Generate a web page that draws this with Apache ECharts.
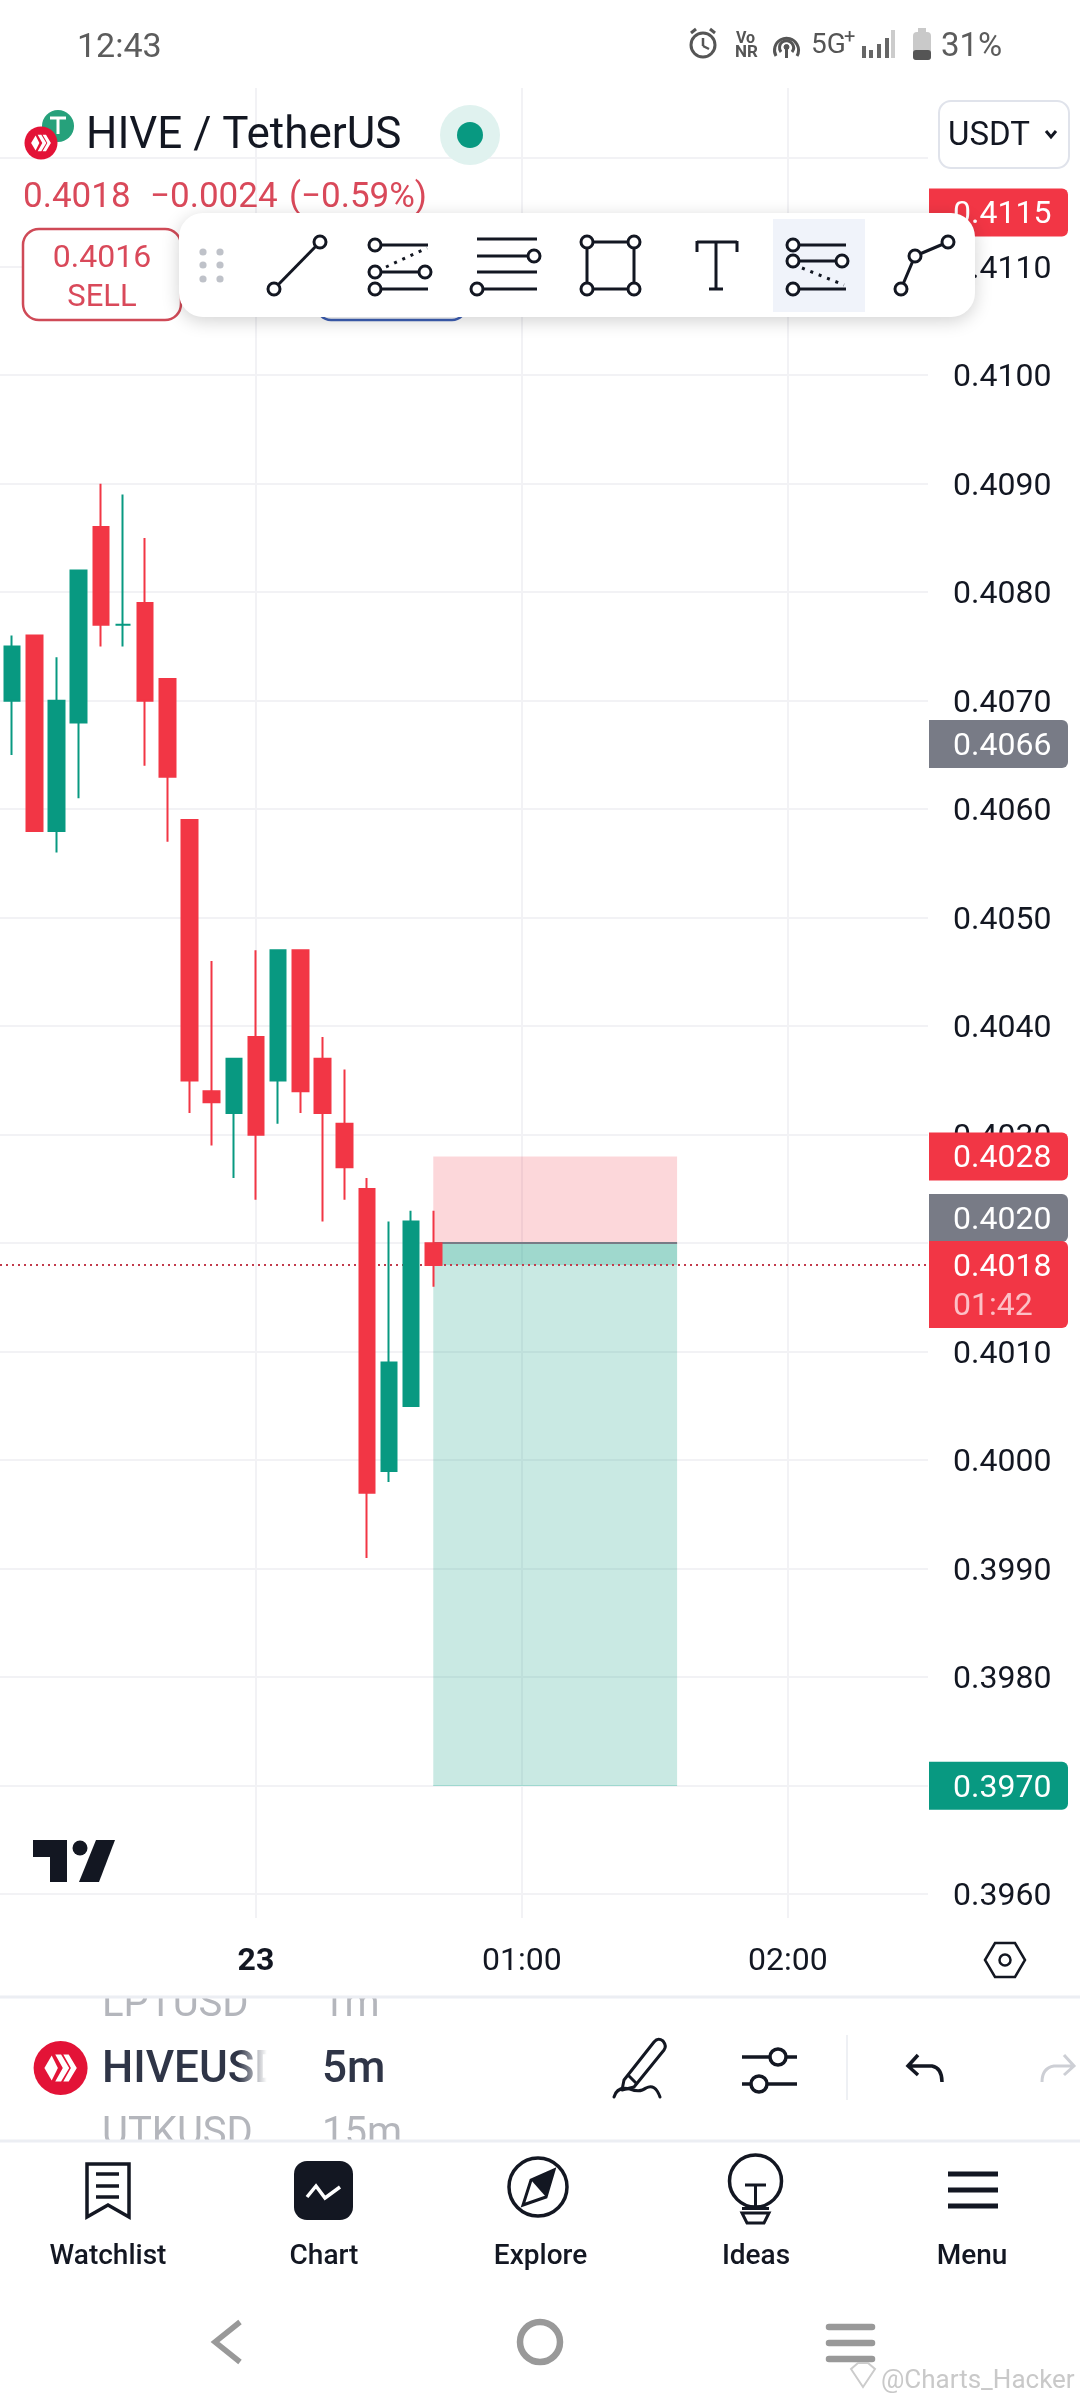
<!DOCTYPE html>
<html><head><meta charset="utf-8">
<style>html,body{margin:0;padding:0;background:#fff}#c{width:1080px;height:2400px}</style>
<script src="https://cdn.jsdelivr.net/npm/echarts@6/dist/echarts.min.js"></script>
</head><body><div id="c"></div>
<script>
// ---- data (minutes relative to 00:00 of the 23rd, prices in USDT)
const candleTimes = [-55,-50,-45,-40,-35,-30,-25,-20,-15,-10,-5,0,5,10,15,20,25,30,35,40];
const opens  = [.4070,.4076,.4058,.4068,.4086,.4077,.4079,.4072,.4059,.4034,.4032,.4039,.4035,.4047,.4037,.4031,.4025,.3999,.4005,.4020];
const closes = [.4075,.4058,.4070,.4082,.4077,.4077,.4070,.4063,.4035,.4033,.4037,.4030,.4047,.4034,.4032,.4027,.3997,.4009,.4022,.4018];
const lows   = [.4065,.4058,.4056,.4061,.4075,.4075,.4064,.4057,.4032,.4029,.4026,.4024,.4031,.4032,.4022,.4024,.3991,.3998,.4005,.4016];
const highs  = [.4076,.4076,.4074,.4082,.4090,.4089,.4085,.4072,.4059,.4046,.4037,.4047,.4047,.4047,.4039,.4036,.4026,.4022,.4023,.4023];
const timeLabels = {0:'23',60:'01:00',120:'02:00'};
const hiddenPriceTicks = [0.412];
const positionTimes = [40,95];
const stopPrice = .4028, entryPrice = .4020, targetPrice = .3970, lastPrice = .4018;
const tagPrices = [.4115,.4066,.4028,.4020,.4018,.3970];
const tagKinds  = ['red','gray','red','gray','red','green'];
const countdown = '01:42';

const RED='#F23645', GREEN='#089981', GRAY='#787B86', INK='#131722', GRID='#f2f2f5';
const FONT='Roboto';
const Z=100;
// ---- chrome helpers
const g=[];
let pathCount=0;
const T=(text,x,y,size,fill,o={})=>g.push({type:'text',z:Z,x,y:y+3,style:{text,fontSize:size,fontFamily:FONT,fontWeight:o.w||400,fill,align:o.a||'left',verticalAlign:'middle'}});
const L=(x1,y1,x2,y2,stroke,w=3,o={})=>g.push({type:'line',z:Z,shape:{x1,y1,x2,y2},style:{stroke,lineWidth:w,lineCap:o.cap||'butt',lineDash:o.dash||null}});
const C=(cx,cy,r,stroke,fill,w=3)=>g.push({type:'circle',z:Z,shape:{cx,cy,r},style:{stroke,fill,lineWidth:w}});
const R=(x,y,width,height,fill,o={})=>g.push({type:'rect',z:Z,shape:{x,y,width,height,r:o.r||0},style:Object.assign({fill,stroke:o.stroke||null,lineWidth:o.w||0},o.style||{})});
const P=(d,stroke,fill,w=3,o={})=>{const name='chromePath'+(pathCount++);echarts.graphic.registerShape(name,echarts.graphic.extendPath(d));g.push({type:name,z:Z,style:{stroke,fill,lineWidth:w,lineJoin:o.join||'miter',lineCap:o.cap||'butt'}});};
function hive(cx,cy,r){
  C(cx,cy,r,null,'#E31337',0);
  const pt=(a,b)=>`${(cx+a*r).toFixed(1)} ${(cy+b*r).toFixed(1)}`;
  P(`M${pt(-.6,0)}L${pt(-.33,-.46)}L${pt(-.1,0)}L${pt(-.33,.46)}Z`,null,'#fff',0);
  P(`M${pt(-.2,-.5)}L${pt(.02,-.5)}L${pt(.32,0)}L${pt(.02,.5)}L${pt(-.2,.5)}L${pt(.08,0)}Z`,null,'#fff',0);
  P(`M${pt(.1,-.5)}L${pt(.3,-.5)}L${pt(.6,0)}L${pt(.3,.5)}L${pt(.1,.5)}L${pt(.38,0)}Z`,null,'#fff',0);
}
// status bar
T('12:43',77,45,34,'#5c5c5c');
C(703,45,12,'#555','none',3);L(703,38,703,46,'#555',2.5);L(703,46,709,49,'#555',2.5);L(691,33,696,29,'#555',3);L(710,29,715,33,'#555',3);
T('Vo',736,36,16,'#555',{w:700});T('NR',735,50,17,'#555',{w:700});
P('M776 56A12 12 0 1 1 797 56','#555','none',3);P('M781 52A7 7 0 1 1 792 52','#555','none',3);C(786.5,47,2.5,'#555','#555',1);L(786.5,48,786.5,58,'#555',3);
T('5G',811,43,28,'#555');T('+',844,35,20,'#555');
[[864,46,58],[871,50,58],[879,44,58],[887,38,58],[893,30,58]].forEach((b,i)=>L(b[0],b[1],b[0],b[2],i==4?'#ccc':'#666',4));
R(913,32,18,28,'#c9c9c9',{r:4});R(918,28,8,5,'#c9c9c9');R(913,50,18,10,'#555',{r:3});
T('31%',941,45,33,'#5c5c5c');
// header
C(58,126,16,null,'#26A17B',0);L(50,118,66,118,'#fff',3);L(58,118,58,134,'#fff',3);
hive(41,143,16.5);
T('HIVE / TetherUS',86,134,44,INK);
C(470,135,30,null,'#e0f2ef',0);C(470,135,13,null,GREEN,0);
R(939,101,130,67,'#fff',{r:12,stroke:'#e0e3eb',w:2});
T('USDT',948,134,33,INK);
P('M1046 131L1051 137L1056 131',INK,'none',3);
T('0.4018',23,195,35,'#D9495A');T('\u22120.0024',150,195,35,'#D9495A');T('(\u22120.59%)',289,195,35,'#D9495A');
R(23,229,158,91,'#fff',{r:16,stroke:'#CF4A57',w:2.5});
T('0.4016',102,256,32,'#D9495A',{a:'center'});
T('SELL',102,295,31,'#D9495A',{a:'center'});
R(317,280,149,40,'#fff',{r:14,stroke:'#3D5FB5',w:2.5});
// floating toolbar
g.push({type:'rect',z:Z,shape:{x:179,y:213,width:796,height:104,r:24},style:{fill:'#fff',shadowBlur:18,shadowColor:'rgba(0,0,0,.18)',shadowOffsetY:4}});
[203,220].forEach(x=>[252,265,279].forEach(y=>C(x,y,3.6,null,'#bfc2c9',0)));
R(773,219,92,93,'#f0f3fa');
const S=INK, w=3;
const node=(x,y)=>C(x,y,6,S,'#fff',w);
L(274,289,320,242,S,w);node(274,289);node(320,242);
L(375,245,428,245,S,w);L(375,272,425,272,S,w);L(375,289,428,289,S,w);L(386,267,427,248,S,w,{dash:[3,6]});node(375,245);node(375,272);node(425,272);node(375,289);
L(477,239,537,239,S,w);L(477,256,534,256,S,w);L(477,272,537,272,S,w);L(477,289,537,289,S,w);node(534,256);node(477,289);
g.push({type:'rect',z:Z,shape:{x:587,y:242,width:47,height:47},style:{stroke:S,fill:'none',lineWidth:w}});[[587,242],[634,242],[587,289],[634,289]].forEach(p=>node(p[0],p[1]));
L(697,242,737,242,S,w);L(697,241,697,252,S,w);L(737,241,737,252,S,w);L(716,242,716,289,S,w);L(709,289,723,289,S,w);
L(793,245,846,245,S,w);L(793,261,842,261,S,w);L(793,289,846,289,S,w);L(802,268,844,285,S,w,{dash:[3,6]});node(793,245);node(793,261);node(842,261);node(793,289);
P('M901 289L915 256L948 242',S,'none',w);node(901,289);node(915,256);node(948,242);
// tradingview logo
P('M33 1840L67 1840L67 1882L50 1882L50 1857L33 1857Z',null,INK,0);C(80,1848,7.5,null,INK,0);P('M96 1840L115 1840L99 1882L79 1882Z',null,INK,0);
// settings hexagon
P('M985 1960L995 1943L1015 1943L1025 1960L1015 1977L995 1977Z',INK,'none',2.5);C(1005,1960,5.5,INK,'none',2.5);
// symbol row
T('LPTUSD',102,2003,40,'#b4b6bc');T('1m',322,2003,40,'#b4b6bc');
R(90,1976,320,21,'#fff');
L(0,1997,1080,1997,'#eceef3',3);
T('UTKUSD',102,2132,40,'#b4b6bc');T('15m',322,2132,40,'#b4b6bc');
hive(60.6,2068,27);
T('HIVEUSD',102,2068,44,'#2f3547',{w:500});
g.push({type:'rect',z:Z,shape:{x:238,y:2040,width:36,height:56},style:{fill:{type:'linear',x:0,y:0,x2:1,y2:0,colorStops:[{offset:0,color:'rgba(255,255,255,0)'},{offset:.8,color:'#fff'},{offset:1,color:'#fff'}]}}});
R(274,2030,40,110,'#fff');
T('5m',322,2068,44,'#2f3547',{w:500});
P('M624 2080L654 2042Q658 2037 663 2041Q667 2046 664 2050L634 2087L622 2090Z',INK,'none',3,{join:'round'});L(628,2075,637,2084,INK,3);
P('M614 2097Q617 2086 630 2089Q640 2093 646 2088Q655 2083 660 2097',INK,'none',3,{cap:'round'});
L(742,2057,797,2057,INK,3.5);L(742,2084,797,2084,INK,3.5);C(778,2057,8,INK,'#fff',3.5);C(759,2084,8,INK,'#fff',3.5);
L(847,2035,847,2100,'#eef0f4',2);
P('M918 2055L908 2066L918 2075M908 2066L932 2066Q942 2068 942 2082',INK,'none',3.5);
P('M1064 2055L1074 2066L1064 2075M1074 2066L1054 2066Q1042 2068 1042 2082','#cdcfd5','none',3);
R(0,2140,1080,260,'#fff');
L(0,2141,1080,2141,'#eceef3',3);
// bottom nav
P('M87 2164L129 2164L129 2217L108 2205L87 2217Z',INK,'none',3.5);L(96,2174,119,2174,INK,3.5);L(96,2186,119,2186,INK,3.5);L(96,2197,119,2197,INK,3.5);
R(294,2161,59,59,INK,{r:13});P('M307 2197L316 2186L325 2198L340 2187','#fff','none',3.5);
C(538,2187,29,INK,'none',3.5);P('M554 2170L546 2197L523 2205L531 2180Z',INK,'none',3);P('M554 2170L531 2180L546 2197Z',null,INK,0);
C(755.5,2181,26,INK,'none',3.5);L(745,2185,766,2185,INK,3);L(755.5,2185,755.5,2207,INK,3);R(742,2207,27,3,INK);P('M742 2213L769 2213L764 2223L747 2223Z',INK,'none',3);
[2174,2190,2206].forEach(y=>L(948,y,998,y,INK,5));
[['Watchlist',108],['Chart',324],['Explore',540.5],['Ideas',756],['Menu',972]].forEach(t=>T(t[0],t[1],2254,28,INK,{a:'center',w:500}));
// system nav
P('M240 2322L215 2342L240 2362','#999','none',5.5);
C(540,2342,20,'#999','none',6.5);
[2327,2343,2359].forEach(y=>L(829,y,872,y,'#999',6.5,{cap:'round'}));
// watermark
P('M851 2369L858 2363L868 2363L875 2369L863 2387Z','#ccc','none',2);
T('@Charts_Hacker',881,2378,26,'#c9c9c9');

const chart=echarts.init(document.getElementById('c'),null,{width:1080,height:2400});
const priceY={max:.412647,min:.395781};
const timeX={min:-57.74,max:151.6};
chart.setOption({
  animation:false,backgroundColor:'#fff',
  grid:{left:0,right:152,top:88,bottom:482,containLabel:false},
  xAxis:{type:'value',min:timeX.min,max:timeX.max,minInterval:60,maxInterval:60,splitNumber:3,scale:true,
    axisLine:{show:false},axisTick:{show:false},
    splitLine:{show:true,showMinLine:false,showMaxLine:false,lineStyle:{color:GRID,width:2}},
    axisLabel:{show:true,margin:28,showMinLabel:false,showMaxLabel:false,color:INK,fontFamily:FONT,fontSize:32,
      formatter:v=>v===0?'{b|'+timeLabels[0]+'}':(timeLabels[v]||''),
      rich:{b:{fontWeight:700,fontFamily:FONT,fontSize:32,color:INK}}}},
  yAxis:{type:'value',position:'right',min:priceY.min,max:priceY.max,splitNumber:17,scale:true,
    axisLine:{show:false},axisTick:{show:false},
    splitLine:{show:true,showMinLine:false,showMaxLine:false,lineStyle:{color:GRID,width:2}},
    axisLabel:{margin:25,showMinLabel:false,showMaxLabel:false,
      formatter:v=>hiddenPriceTicks.some(h=>Math.abs(h-v)<1e-7)?'':'{p|'+v.toFixed(4)+'}',
      rich:{p:{color:INK,fontFamily:FONT,fontSize:32,padding:[6,0,0,0]}}}},
  series:[
    {type:'candlestick',z:2,barWidth:16,clip:false,encode:{x:0,y:[1,2,3,4]},
     data:candleTimes.map((t,i)=>[t,opens[i],closes[i],lows[i],highs[i]]),
     itemStyle:{color:GREEN,color0:RED,borderColor:GREEN,borderColor0:RED,borderColorDoji:GREEN,borderWidth:2},
     markArea:{silent:true,z:1,data:[
       [{xAxis:positionTimes[0],yAxis:stopPrice,itemStyle:{color:'rgba(242,54,69,.2)'}},{xAxis:positionTimes[1],yAxis:entryPrice}],
       [{xAxis:positionTimes[0],yAxis:entryPrice,itemStyle:{color:'rgba(8,153,129,.22)'}},{xAxis:positionTimes[1],yAxis:targetPrice}],
       [{xAxis:positionTimes[0],yAxis:entryPrice,itemStyle:{color:'rgba(8,153,129,.22)'}},{xAxis:positionTimes[1],yAxis:lastPrice}]
     ]},
     markLine:{silent:true,z:1,precision:4,symbol:'none',label:{show:false},data:[
       {yAxis:lastPrice,lineStyle:{color:'#C23B4C',width:2,type:[2,4]}},
       [{xAxis:positionTimes[0],yAxis:entryPrice,lineStyle:{color:GRAY,width:2,type:'solid'}},{xAxis:positionTimes[1],yAxis:entryPrice}],
       [{xAxis:positionTimes[0],yAxis:targetPrice,lineStyle:{color:'#9fd8cf',width:1,type:'solid'}},{xAxis:positionTimes[1],yAxis:targetPrice}]
     ]}},
    {type:'custom',z:20,clip:false,silent:true,encode:{x:0,y:1},
     data:tagPrices.map((p,i)=>[0,p,i]),
     renderItem:(params,api)=>{
       const i=api.value(2), k=tagKinds[i];
       let y=api.coord([0,api.value(1)])[1];
       const fill=k==='red'?RED:k==='green'?GREEN:GRAY;
       const two=tagPrices[i]===lastPrice;
       // the entry tag is pushed up so that it rests on top of the last-price tag
       if(tagPrices[i]===entryPrice) y=api.coord([0,lastPrice])[1]-47;
       const top=y-24, h=two?87:48;
       const kids=[
        {type:'rect',shape:{x:929,y:top,width:139,height:h,r:[0,6,6,0]},style:{fill}},
        {type:'text',x:953,y:y+3,style:{text:tagPrices[i].toFixed(4),fill:'#fff',fontSize:32,fontFamily:FONT,align:'left',verticalAlign:'middle'}}];
       if(two)kids.push({type:'text',x:953,y:y+42,style:{text:countdown,fill:'#fcc0c6',fontSize:32,fontFamily:FONT,align:'left',verticalAlign:'middle'}});
       return {type:'group',children:kids};
     }}
  ],
  graphic:{elements:g}
});
</script></body></html>
